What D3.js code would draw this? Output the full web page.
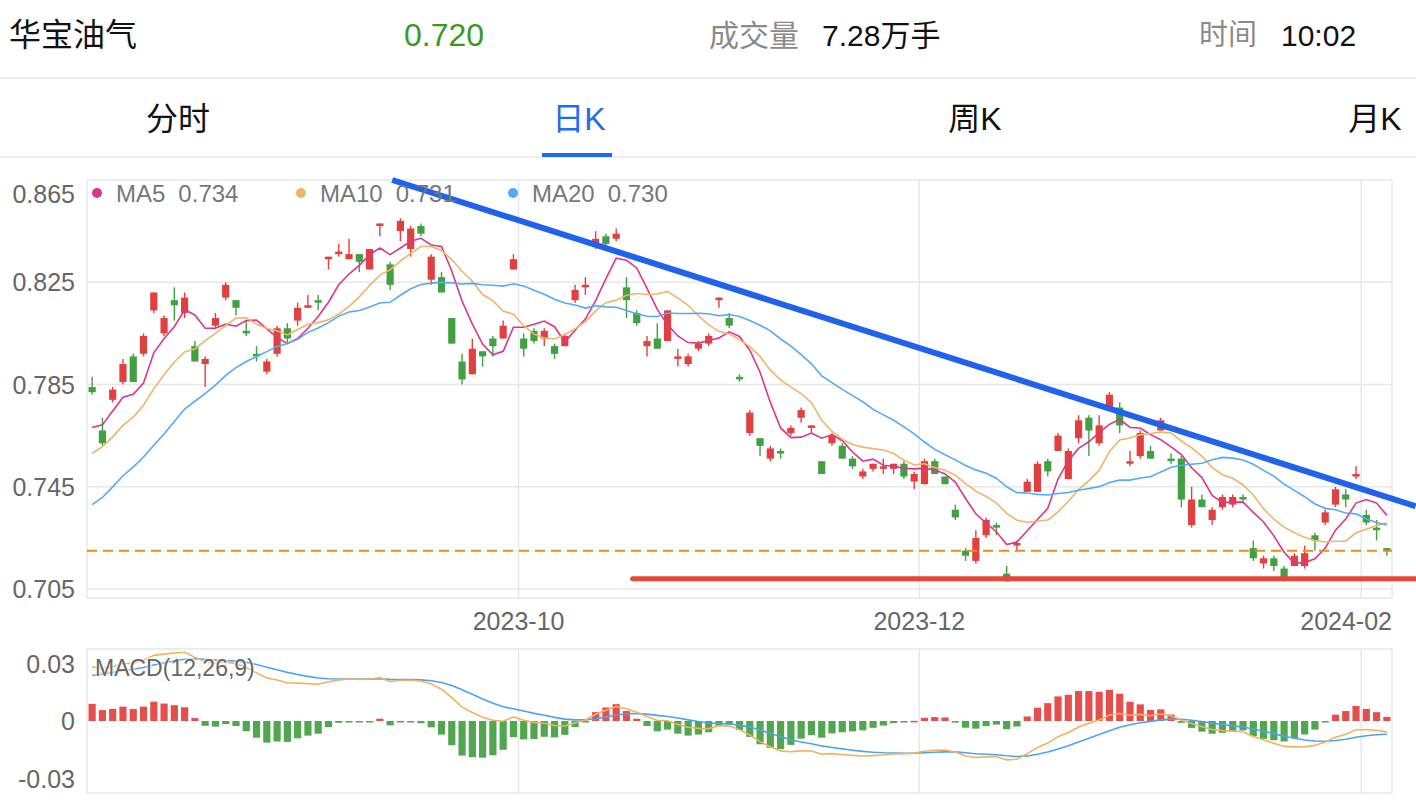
<!DOCTYPE html>
<html>
<head>
<meta charset="utf-8">
<title>华宝油气 日K</title>
<style>
  body { margin: 0; background: #fff; }
  svg text { font-family: "Liberation Sans", "Noto Sans CJK SC", sans-serif; }
</style>
<script src="https://d3js.org/d3.v7.min.js"></script>
</head>
<body>
<div id="chart"></div>
<script>
// trading days shown on the chart
const months = [
  ["2023-08", [2,3,4,7,8,9,10,11,14,15,16,17,18,21,22,23,24,25,28,29,30,31]],
  ["2023-09", [1,4,5,6,7,8,11,12,13,14,15,18,19,20,21,22,25,26,27,28]],
  ["2023-10", [9,10,11,12,13,16,17,18,19,20,23,24,25,26,27,30,31]],
  ["2023-11", [1,2,3,6,7,8,9,10,13,14,15,16,17,20,21,22,23,24,27,28,29,30]],
  ["2023-12", [1,4,5,6,7,8,11,12,13,14,15,18,19,20,21,22,25,26,27,28,29]],
  ["2024-01", [2,3,4,5,8,9,10,11,12,15,16,17,18,19,22,23,24,25,26,29,30,31]],
  ["2024-02", [1,2,5]]
];
const tickMonths = ["2023-10", "2023-12", "2024-02"];

const open = [
  .784,.767,.779,.786,.796,.797,.814,.805,.818,.813,.800,.793,.808,.819,.818,.806,.797,.790,.797,.807,
  .810,.815,.818,.834,.836,.834,.836,.830,.847,.832,.845,.838,.847,.826,.827,.811,.794,.789,.798,.803,
  .803,.830,.803,.806,.803,.800,.800,.818,.823,.839,.843,.842,.823,.813,.800,.803,.802,.795,.793,.799,
  .801,.818,.811,.788,.766,.764,.756,.759,.766,.772,.768,.755,.762,.761,.756,.749,.752,.752,.752,.754,
  .747,.746,.755,.749,.736,.720,.716,.726,.730,.711,.722,.743,.743,.755,.759,.748,.764,.772,.762,.775,
  .776,.754,.757,.759,.767,.756,.756,.730,.740,.732,.737,.738,.741,.721,.715,.717,.713,.714,.714,.726,
  .731,.738,.742,.749,.734,.729,.721
];
const high = [
  .788,.772,.784,.795,.797,.805,.821,.812,.823,.821,.802,.796,.813,.825,.818,.810,.800,.795,.808,.809,
  .817,.820,.820,.835,.840,.842,.836,.838,.848,.833,.850,.847,.848,.836,.829,.811,.797,.803,.798,.804,
  .810,.836,.805,.807,.807,.801,.805,.824,.827,.845,.844,.846,.827,.814,.804,.809,.814,.799,.797,.802,
  .805,.819,.813,.789,.775,.764,.761,.760,.769,.776,.769,.755,.766,.762,.757,.752,.754,.756,.754,.755,
  .751,.756,.756,.749,.738,.721,.728,.733,.731,.714,.724,.748,.755,.756,.766,.760,.773,.773,.773,.782,
  .778,.759,.767,.761,.772,.758,.757,.745,.742,.737,.742,.742,.742,.724,.718,.718,.714,.719,.722,.727,
  .736,.745,.744,.753,.736,.732,.721
];
const low = [
  .781,.761,.778,.785,.786,.796,.813,.804,.810,.811,.794,.784,.807,.818,.812,.804,.794,.789,.796,.801,
  .808,.815,.814,.830,.835,.834,.829,.830,.843,.822,.841,.835,.843,.824,.821,.801,.785,.789,.792,.796,
  .803,.830,.796,.801,.800,.795,.800,.817,.820,.838,.839,.841,.811,.808,.796,.799,.802,.792,.792,.798,
  .800,.815,.807,.786,.765,.757,.755,.756,.765,.770,.766,.750,.761,.756,.752,.748,.751,.750,.750,.748,
  .744,.746,.750,.746,.732,.716,.715,.725,.726,.708,.720,.743,.743,.749,.759,.748,.762,.757,.761,.775,
  .766,.753,.756,.756,.767,.754,.737,.729,.737,.730,.736,.737,.739,.716,.713,.712,.708,.714,.713,.720,
  .730,.737,.737,.748,.730,.724,.718
];
const close = [
  .782,.762,.783,.793,.786,.804,.821,.811,.816,.819,.794,.795,.811,.824,.815,.805,.796,.794,.807,.803,
  .815,.816,.817,.835,.837,.836,.833,.838,.848,.824,.849,.846,.844,.835,.821,.801,.787,.799,.796,.800,
  .808,.834,.799,.802,.806,.797,.804,.822,.824,.842,.840,.844,.818,.809,.802,.799,.814,.796,.796,.801,
  .804,.819,.808,.787,.774,.761,.760,.758,.768,.775,.769,.750,.765,.756,.753,.751,.754,.753,.754,.749,
  .750,.755,.750,.746,.733,.718,.725,.732,.729,.708,.723,.747,.754,.751,.765,.759,.771,.767,.769,.781,
  .769,.755,.766,.756,.771,.755,.740,.740,.737,.736,.741,.741,.740,.717,.717,.714,.709,.718,.719,.724,
  .735,.744,.740,.750,.731,.728,.720
];
// closes of the 19 sessions before the first visible one (needed for MA20)
const prevCloses = [.706,.700,.706,.718,.725,.730,.722,.718,.722,.733,
                    .735,.745,.748,.754,.757,.757,.756,.766,.780];

const maPeriods = [5, 10, 20];
const maColors = ["#d9378b", "#f0b468", "#55aaf5"];
// EMA12, EMA26, DEA state before the first visible session
const macdSeed = [0.7442, 0.7231, 0.0181];

const header = { name: "华宝油气", volume: "7.28万手", time: "10:02" };
const tabs = ["分时", "日K", "周K", "月K"];
const yTicks = [0.705, 0.745, 0.785, 0.825, 0.865];
const macdTicks = [-0.03, 0, 0.03];
// drawn lines: [session index, price]
const resistance = [[29.2, 0.865], [128.8, 0.7374]];
const support = [[52.6, 0.709], [128.8, 0.709]];

// ---------- derived series ----------
const dates = months.flatMap(([m, ds]) => ds.map(d => m + "-" + String(d).padStart(2, "0")));
const n = close.length;
const allCloses = prevCloses.concat(close);
const off = prevCloses.length;

function sma(p) {
  return close.map((_, i) => d3.mean(allCloses.slice(off + i - p + 1, off + i + 1)));
}
const maSeries = maPeriods.map(sma);

let e12 = macdSeed[0], e26 = macdSeed[1], dea = macdSeed[2];
const dif = [], deaS = [], hist = [];
close.forEach(c => {
  e12 = e12 + (c - e12) * 2 / 13;
  e26 = e26 + (c - e26) * 2 / 27;
  const d = e12 - e26;
  dea = dea + (d - dea) * 2 / 10;
  dif.push(d); deaS.push(dea); hist.push(2 * (d - dea));
});

// ---------- drawing ----------
const W = 1416, H = 802;
const svg = d3.select("#chart").append("svg").attr("width", W).attr("height", H);
svg.append("rect").attr("width", W).attr("height", H).attr("fill", "#fff");

const plot = { left: 87, right: 1392, top: 180, bottom: 598 };
const sub = { top: 649, bottom: 793 };

const x = d3.scaleLinear().domain([-0.5, n - 0.5]).range([plot.left, plot.right]);
const step = x(1) - x(0);
const bodyW = step * 0.7;
const y = d3.scaleLinear().domain([0.705, 0.865]).range([589, 180]);
const yM = d3.scaleLinear().domain([-0.03, 0.03]).range([sub.bottom, sub.top]);

const up = "#e2403f", down = "#41a041";
const grid = "#e8e8e8";
const labelColor = "#666";

// header
function headText(xp, txt, color, size) {
  return svg.append("text").attr("x", xp).attr("y", 35).attr("dominant-baseline", "central")
    .attr("font-size", size).attr("fill", color).text(txt);
}
headText(9, header.name, "#111", 32);
headText(404, close[n - 1].toFixed(3), "#3a9a1e", 32);
headText(709, "成交量", "#8a8a8a", 30);
headText(822, header.volume, "#111", 30);
headText(1199, "时间", "#8a8a8a", 29);
headText(1281, header.time, "#111", 30);

svg.append("rect").attr("x", 0).attr("y", 77).attr("width", W).attr("height", 2).attr("fill", "#eeeeee");
svg.append("rect").attr("x", 0).attr("y", 156).attr("width", W).attr("height", 2).attr("fill", "#eeeeee");

const tabX = [178, 579, 975, 1375];
tabs.forEach((t, i) => {
  svg.append("text").attr("x", tabX[i]).attr("y", 119).attr("text-anchor", "middle")
    .attr("dominant-baseline", "central").attr("font-size", 32)
    .attr("fill", i === 1 ? "#1d6bf2" : "#111").text(t);
});
svg.append("rect").attr("x", 542).attr("y", 153).attr("width", 70).attr("height", 4).attr("fill", "#1d6bf2");

// main grid
const g = svg.append("g");
g.selectAll(".hg").data(yTicks).join("line")
  .attr("x1", plot.left).attr("x2", plot.right)
  .attr("y1", d => y(d)).attr("y2", d => y(d))
  .attr("stroke", grid).attr("stroke-width", 1.5);
g.append("line").attr("x1", plot.left).attr("x2", plot.right)
  .attr("y1", plot.bottom).attr("y2", plot.bottom).attr("stroke", grid).attr("stroke-width", 1.5);
[plot.left, plot.right].forEach(v => {
  g.append("line").attr("x1", v).attr("x2", v).attr("y1", plot.top).attr("y2", plot.bottom)
    .attr("stroke", grid).attr("stroke-width", 1.5);
});
g.append("rect").attr("x", plot.left).attr("y", sub.top)
  .attr("width", plot.right - plot.left).attr("height", sub.bottom - sub.top)
  .attr("fill", "none").attr("stroke", grid).attr("stroke-width", 1.5);

const tickIdx = tickMonths.map(m => dates.findIndex(d => d.startsWith(m)));
tickIdx.forEach(i => {
  const xv = x(i) - step / 2;
  g.append("line").attr("x1", xv).attr("x2", xv).attr("y1", plot.top).attr("y2", plot.bottom)
    .attr("stroke", grid).attr("stroke-width", 1.5);
  g.append("line").attr("x1", xv).attr("x2", xv).attr("y1", sub.top).attr("y2", sub.bottom)
    .attr("stroke", grid).attr("stroke-width", 1.5);
});

// axis labels (edge labels are kept inside the panel)
svg.selectAll(".yl").data(yTicks).join("text")
  .attr("x", 75).attr("y", d => Math.max(y(d), plot.top + 14))
  .attr("text-anchor", "end").attr("dominant-baseline", "central")
  .attr("font-size", 25).attr("fill", labelColor).text(d => d.toFixed(3));
svg.selectAll(".ml").data(macdTicks).join("text")
  .attr("x", 75).attr("y", d => Math.min(Math.max(yM(d), sub.top + 15), sub.bottom - 14))
  .attr("text-anchor", "end").attr("dominant-baseline", "central")
  .attr("font-size", 25).attr("fill", labelColor).text(d => d === 0 ? "0" : d.toFixed(2));
tickIdx.forEach((i, k) => {
  const t = svg.append("text").attr("y", 621).attr("text-anchor", "middle")
    .attr("dominant-baseline", "central").attr("font-size", 25).attr("fill", labelColor)
    .text(tickMonths[k]);
  const half = t.node().getComputedTextLength() / 2;
  t.attr("x", Math.min(x(i) - step / 2, plot.right - half));
});

// candles
const cg = svg.append("g");
const idx = d3.range(n);
cg.selectAll(".wick").data(idx).join("line")
  .attr("x1", i => x(i)).attr("x2", i => x(i))
  .attr("y1", i => y(high[i])).attr("y2", i => y(low[i]))
  .attr("stroke", i => close[i] >= open[i] ? up : down).attr("stroke-width", 1.4);
cg.selectAll(".body").data(idx).join("rect")
  .attr("x", i => x(i) - bodyW / 2).attr("width", bodyW)
  .attr("y", i => y(Math.max(open[i], close[i])))
  .attr("height", i => Math.max(1.6, Math.abs(y(open[i]) - y(close[i]))))
  .attr("fill", i => close[i] >= open[i] ? up : down);

// moving averages
maSeries.forEach((s, k) => {
  svg.append("path").datum(s)
    .attr("d", d3.line().x((_, i) => x(i)).y(v => y(v)))
    .attr("fill", "none").attr("stroke", maColors[k]).attr("stroke-width", 1.6);
});

// current price dashed line
const last = close[n - 1];
svg.append("line").attr("x1", plot.left).attr("x2", plot.right)
  .attr("y1", y(last)).attr("y2", y(last))
  .attr("stroke", "#f08a12").attr("stroke-width", 2).attr("stroke-dasharray", "10,6");

// support and resistance lines
svg.append("line")
  .attr("x1", x(support[0][0])).attr("y1", y(support[0][1]))
  .attr("x2", x(support[1][0])).attr("y2", y(support[1][1]))
  .attr("stroke", "#ea4638").attr("stroke-width", 5).attr("stroke-linecap", "round");
svg.append("line")
  .attr("x1", x(resistance[0][0])).attr("y1", y(resistance[0][1]))
  .attr("x2", x(resistance[1][0])).attr("y2", y(resistance[1][1]))
  .attr("stroke", "#1f62ee").attr("stroke-width", 6);

// legend
const legX = [97, 301, 513];
maPeriods.forEach((p, k) => {
  const lx = legX[k];
  svg.append("circle").attr("cx", lx).attr("cy", 193).attr("r", 5).attr("fill", maColors[k]);
  const t = svg.append("text").attr("x", lx + 19).attr("y", 193).attr("dominant-baseline", "central")
    .attr("font-size", 24).attr("fill", "#777");
  t.append("tspan").text("MA" + p);
  t.append("tspan").attr("dx", 13).text(maSeries[k][n - 1].toFixed(3));
});

// MACD
const mg = svg.append("g");
mg.selectAll(".hb").data(idx).join("rect")
  .attr("x", i => x(i) - bodyW / 2).attr("width", bodyW)
  .attr("y", i => Math.min(yM(0), yM(hist[i])))
  .attr("height", i => Math.max(1.5, Math.abs(yM(hist[i]) - yM(0))))
  .attr("fill", i => hist[i] >= 0 ? up : down).attr("opacity", 0.92);
mg.append("path").datum(deaS)
  .attr("d", d3.line().x((_, i) => x(i)).y(v => yM(v)))
  .attr("fill", "none").attr("stroke", "#4da3f2").attr("stroke-width", 1.6);
mg.append("path").datum(dif)
  .attr("d", d3.line().x((_, i) => x(i)).y(v => yM(v)))
  .attr("fill", "none").attr("stroke", "#f2b15e").attr("stroke-width", 1.6);
svg.append("text").attr("x", 95).attr("y", 668).attr("dominant-baseline", "central")
  .attr("font-size", 23).attr("fill", "#666")
  .attr("stroke", "rgba(255,255,255,0.6)").attr("stroke-width", 3).attr("paint-order", "stroke")
  .text("MACD(12,26,9)");
</script>
</body>
</html>
